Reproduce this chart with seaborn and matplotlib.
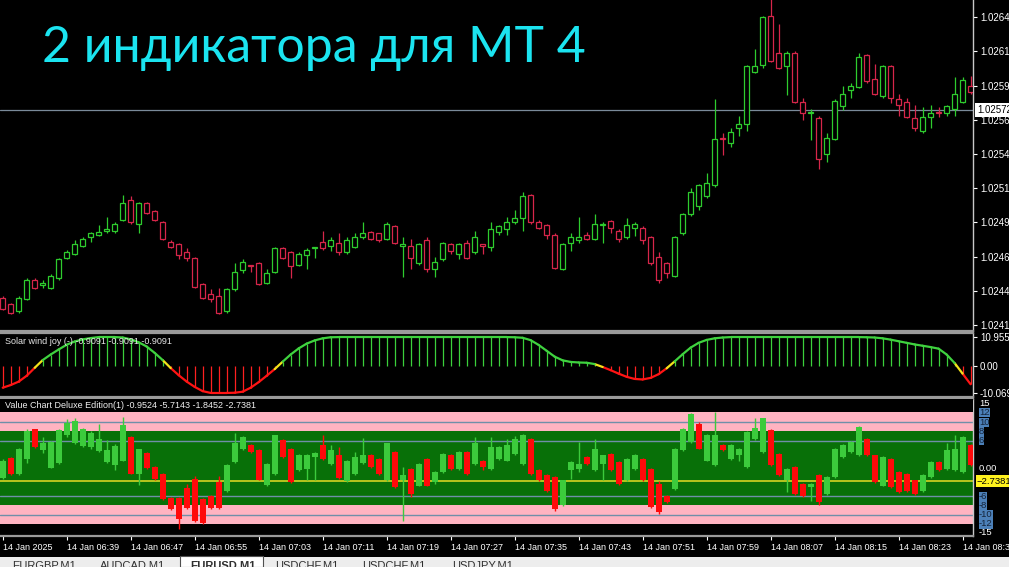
import numpy as np
import pandas as pd
import matplotlib
matplotlib.use('Agg')
import matplotlib.pyplot as plt
import matplotlib.transforms as mtransforms
from matplotlib.patches import Rectangle
import seaborn as sns

sns.set_style('dark')
plt.rcParams['font.family'] = ['DejaVu Sans']

# --- данные: свечи EURUSD M1 (O, H, L, C) ---
opens = [1.02435, 1.02430, 1.02425, 1.02434, 1.02448, 1.02444, 1.02442, 1.02449, 1.02464, 1.02467,
         1.02473, 1.02479, 1.02481, 1.02484, 1.02484, 1.02492, 1.02506, 1.02489, 1.02504, 1.02498,
         1.02490, 1.02476, 1.02474, 1.02468, 1.02464, 1.02445, 1.02438, 1.02436, 1.02425, 1.02441,
         1.02455, 1.02459, 1.02460, 1.02446, 1.02454, 1.02471, 1.02468, 1.02459, 1.02466, 1.02471,
         1.02476, 1.02473, 1.02475, 1.02468, 1.02472, 1.02479, 1.02483, 1.02482, 1.02478, 1.02487,
         1.02473, 1.02473, 1.02460, 1.02477, 1.02456, 1.02463, 1.02474, 1.02467, 1.02475, 1.02468,
         1.02474, 1.02472, 1.02483, 1.02485, 1.02490, 1.02493, 1.02510, 1.02490, 1.02488, 1.02481,
         1.02456, 1.02475, 1.02477, 1.02481, 1.02478, 1.02488, 1.02491, 1.02484, 1.02479, 1.02486,
         1.02486, 1.02479, 1.02465, 1.02460, 1.02451, 1.02482, 1.02496, 1.02502, 1.02509, 1.02517,
         1.02552, 1.02548, 1.02559, 1.02562, 1.02600, 1.02605, 1.02641, 1.02614, 1.02604, 1.02614,
         1.02578, 1.02570, 1.02566, 1.02540, 1.02551, 1.02575, 1.02587, 1.02589, 1.02612, 1.02595,
         1.02582, 1.02604, 1.02580, 1.02578, 1.02566, 1.02557, 1.02567, 1.02571, 1.02570, 1.02573,
         1.02578, 1.02590]
highs = [1.02436, 1.02431, 1.02436, 1.02449, 1.02449, 1.02448, 1.02452, 1.02464, 1.02470, 1.02477,
         1.02479, 1.02483, 1.02488, 1.02494, 1.02490, 1.02510, 1.02509, 1.02505, 1.02505, 1.02499,
         1.02491, 1.02477, 1.02475, 1.02471, 1.02465, 1.02446, 1.02441, 1.02442, 1.02442, 1.02460,
         1.02463, 1.02459, 1.02461, 1.02456, 1.02472, 1.02472, 1.02469, 1.02468, 1.02471, 1.02472,
         1.02484, 1.02479, 1.02482, 1.02479, 1.02482, 1.02490, 1.02484, 1.02482, 1.02490, 1.02488,
         1.02479, 1.02478, 1.02475, 1.02479, 1.02465, 1.02476, 1.02475, 1.02475, 1.02477, 1.02484,
         1.02474, 1.02490, 1.02488, 1.02494, 1.02499, 1.02512, 1.02511, 1.02492, 1.02489, 1.02482,
         1.02475, 1.02482, 1.02494, 1.02483, 1.02496, 1.02490, 1.02492, 1.02485, 1.02493, 1.02490,
         1.02487, 1.02480, 1.02468, 1.02461, 1.02480, 1.02497, 1.02515, 1.02518, 1.02526, 1.02580,
         1.02555, 1.02559, 1.02568, 1.02605, 1.02617, 1.02641, 1.02653, 1.02635, 1.02615, 1.02615,
         1.02581, 1.02573, 1.02568, 1.02555, 1.02580, 1.02590, 1.02592, 1.02614, 1.02613, 1.02606,
         1.02605, 1.02605, 1.02584, 1.02581, 1.02576, 1.02574, 1.02576, 1.02574, 1.02576, 1.02596,
         1.02596, 1.02597]
lows = [1.02426, 1.02423, 1.02424, 1.02433, 1.02441, 1.02442, 1.02441, 1.02448, 1.02463, 1.02466,
        1.02472, 1.02476, 1.02480, 1.02482, 1.02482, 1.02491, 1.02489, 1.02482, 1.02496, 1.02491,
        1.02477, 1.02471, 1.02463, 1.02462, 1.02442, 1.02434, 1.02432, 1.02423, 1.02424, 1.02440,
        1.02453, 1.02454, 1.02444, 1.02445, 1.02453, 1.02463, 1.02449, 1.02458, 1.02456, 1.02464,
        1.02470, 1.02469, 1.02466, 1.02467, 1.02471, 1.02478, 1.02477, 1.02476, 1.02477, 1.02474,
        1.02450, 1.02456, 1.02459, 1.02454, 1.02450, 1.02462, 1.02467, 1.02463, 1.02463, 1.02467,
        1.02467, 1.02469, 1.02481, 1.02481, 1.02489, 1.02484, 1.02489, 1.02485, 1.02478, 1.02456,
        1.02455, 1.02469, 1.02475, 1.02477, 1.02477, 1.02475, 1.02482, 1.02476, 1.02478, 1.02480,
        1.02474, 1.02459, 1.02446, 1.02449, 1.02450, 1.02481, 1.02495, 1.02499, 1.02508, 1.02516,
        1.02539, 1.02545, 1.02553, 1.02557, 1.02599, 1.02603, 1.02607, 1.02602, 1.02583, 1.02577,
        1.02565, 1.02550, 1.02529, 1.02534, 1.02550, 1.02572, 1.02581, 1.02588, 1.02592, 1.02583,
        1.02581, 1.02577, 1.02568, 1.02566, 1.02557, 1.02555, 1.02559, 1.02567, 1.02568, 1.02568,
        1.02577, 1.02584]
closes = [1.02427, 1.02424, 1.02435, 1.02448, 1.02442, 1.02446, 1.02451, 1.02463, 1.02468, 1.02474,
          1.02478, 1.02482, 1.02483, 1.02485, 1.02489, 1.02504, 1.02490, 1.02504, 1.02497, 1.02492,
          1.02478, 1.02472, 1.02466, 1.02464, 1.02443, 1.02435, 1.02434, 1.02424, 1.02441, 1.02454,
          1.02461, 1.02458, 1.02445, 1.02453, 1.02471, 1.02464, 1.02458, 1.02467, 1.02470, 1.02472,
          1.02471, 1.02477, 1.02468, 1.02477, 1.02479, 1.02482, 1.02478, 1.02477, 1.02489, 1.02475,
          1.02474, 1.02464, 1.02474, 1.02456, 1.02461, 1.02475, 1.02469, 1.02474, 1.02464, 1.02479,
          1.02473, 1.02485, 1.02487, 1.02490, 1.02493, 1.02509, 1.02490, 1.02486, 1.02481, 1.02457,
          1.02474, 1.02479, 1.02479, 1.02478, 1.02489, 1.02489, 1.02486, 1.02478, 1.02488, 1.02489,
          1.02477, 1.02460, 1.02448, 1.02453, 1.02479, 1.02496, 1.02512, 1.02517, 1.02519, 1.02551,
          1.02551, 1.02556, 1.02562, 1.02604, 1.02604, 1.02640, 1.02608, 1.02603, 1.02614, 1.02578,
          1.02570, 1.02571, 1.02536, 1.02552, 1.02579, 1.02584, 1.02590, 1.02611, 1.02593, 1.02584,
          1.02604, 1.02581, 1.02576, 1.02567, 1.02559, 1.02567, 1.02570, 1.02570, 1.02575, 1.02584,
          1.02594, 1.02585]
price_line = 1.02572
price_ticks = [1.02640, 1.02615, 1.02590, 1.02565, 1.02540, 1.02515, 1.02490, 1.02465, 1.02440, 1.02415]

# --- Solar wind joy ---
solar_wind = [-8.1, -7.1, -5.8, -3.6, -0.6, 2.3, 4.4, 6.3, 8.1, 9.3,
              10.1, 10.6, 10.96, 10.96, 10.96, 10.8, 10.1, 9.0, 7.4, 5.0,
              2.3, -0.7, -3.4, -5.8, -7.8, -9.4, -10.07, -10.07, -10.07, -10.0,
              -9.6, -8.1, -6.0, -3.6, -1.1, 1.7, 4.4, 6.7, 8.5, 9.7,
              10.5, 10.9, 10.96, 10.96, 10.96, 10.96, 10.96, 10.96, 10.96, 10.96,
              10.96, 10.96, 10.96, 10.96, 10.96, 10.96, 10.96, 10.96, 10.96, 10.96,
              10.96, 10.96, 10.96, 10.96, 10.9, 10.7, 9.8, 8.0, 5.8, 3.6,
              2.2, 1.6, 1.4, 1.3, 0.8, -0.3, -1.5, -2.8, -4.0, -4.8,
              -5.0, -4.4, -3.0, -0.8, 1.8, 4.5, 7.0, 8.8, 9.9, 10.5,
              10.8, 10.96, 10.96, 10.96, 10.96, 10.96, 10.96, 10.96, 10.96, 10.96,
              10.96, 10.96, 10.96, 10.96, 10.96, 10.96, 10.96, 10.96, 10.9, 10.8,
              10.5, 10.0, 9.4, 8.8, 8.2, 7.7, 7.2, 6.6, 4.4, 1.2,
              -2.8, -6.8]
sw_ticks = [10.9557, 0.0, -10.069]
sw_tick_labels = ['10.9557', '0.00', '-10.069']

# --- Value Chart Deluxe Edition ---
vc_open = [-2.0, 2.2, -1.3, 2.0, 8.5, 3.9, 0.2, 1.1, 7.2, 5.4,
           4.8, 4.6, 3.7, 1.3, 0.7, 1.7, 6.7, -1.3, 3.3, 0.4,
           -1.1, -6.3, -6.3, -4.3, -2.2, -6.5, -5.9, -3.0, -4.8, 1.3,
           4.3, 5.1, 3.9, -3.6, -1.2, 6.1, 4.3, -0.4, -0.1, 2.5,
           5.1, 1.0, 3.0, -2.8, -1.2, 1.2, 3.0, 2.0, -2.6, 3.6,
           -2.6, -0.1, -3.7, 2.1, -3.0, -0.8, 3.0, -0.1, 3.6, 1.0,
           1.7, -0.1, 2.1, 1.7, 3.2, 1.0, 6.4, -0.4, -1.4, -1.9,
           -8.0, -0.4, -0.1, 2.5, -0.4, 1.0, 3.2, 1.4, -2.6, -0.1,
           2.1, -0.1, -3.3, -5.9, -4.4, 3.9, 5.7, 9.7, 1.7, 0.7,
           5.1, 2.1, 2.8, 0.3, 6.4, 3.6, 8.3, 3.2, -2.6, 0.3,
           -3.3, -4.1, -1.5, -5.5, -1.9, 2.5, 3.6, 2.8, 6.4, 2.8,
           -3.7, 2.1, -0.8, -1.2, -2.6, -4.8, -1.9, 1.4, -0.1, -0.4,
           -0.8, 5.0]
vc_high = [2.0, 2.4, 4.5, 8.5, 8.6, 6.7, 5.9, 8.5, 10.7, 10.9,
           8.7, 8.0, 9.6, 6.1, 5.2, 11.1, 7.0, 4.3, 3.5, 0.6,
           -0.9, -6.1, -6.1, -3.3, -1.7, -6.3, -5.7, -1.7, 0.9, 7.6,
           7.0, 5.3, 4.1, 1.2, 7.3, 6.3, 4.5, 3.2, 3.2, 3.6,
           7.2, 5.0, 4.6, 1.9, 3.6, 6.6, 3.2, 2.2, 5.6, 3.8,
           0.3, 0.1, 1.2, 2.3, -0.6, 3.4, 3.2, 3.8, 3.8, 6.8,
           1.9, 6.8, 4.8, 6.4, 7.0, 7.5, 6.6, -0.2, -1.2, -1.7,
           -2.4, 1.6, 5.7, 2.7, 6.4, 3.0, 3.4, 1.6, 2.3, 3.2,
           2.3, 0.1, -2.8, -5.7, 4.5, 8.7, 11.9, 10.1, 7.4, 12.2,
           5.3, 5.2, 4.5, 8.1, 10.8, 11.0, 8.5, 3.4, 0.1, 0.5,
           -3.1, -3.1, -1.3, -1.7, 4.5, 5.3, 5.9, 9.2, 6.6, 3.0,
           2.7, 2.3, -0.6, -1.0, -2.4, -1.3, 1.6, 1.6, 5.4, 7.2,
           7.0, 5.2]
vc_low = [-2.3, -1.5, -1.5, 1.1, 4.5, 3.3, 0.0, 0.9, 6.7, 5.2,
          4.6, 4.1, 3.5, 1.1, -0.4, 1.5, -1.3, -3.5, -0.2, -2.4,
          -6.9, -8.9, -13.0, -8.7, -11.5, -12.0, -8.7, -8.7, -5.0, 1.1,
          4.0, 3.4, -2.6, -3.7, -1.4, 2.3, -3.2, -0.6, -2.4, -2.4,
          1.9, 0.8, -2.3, -3.0, -1.4, 1.0, 0.1, -1.4, -2.8, -4.3,
          -11.3, -6.2, -3.9, -3.9, -3.4, -1.0, -0.3, -0.3, -1.4, 0.8,
          -0.4, -0.3, 1.9, 1.5, 3.0, 0.8, -1.4, -2.8, -5.0, -9.1,
          -8.2, -2.2, -0.8, 0.8, -0.6, -2.6, -0.6, -3.5, -2.8, -0.3,
          -2.8, -8.6, -9.9, -7.5, -4.6, 3.7, 5.5, 4.1, 1.5, 0.5,
          3.7, 1.9, 1.7, 0.1, 6.2, 3.4, 0.5, -1.7, -5.1, -5.7,
          -6.1, -7.0, -8.0, -5.7, -2.1, 2.3, 3.4, 2.6, 2.6, -3.2,
          -3.9, -4.3, -5.3, -5.0, -5.7, -5.0, -2.1, -0.6, -0.3, -0.6,
          -1.0, 0.5]
vc_close = [1.5, -1.3, 4.1, 8.0, 4.6, 5.4, 5.7, 8.3, 9.8, 10.2,
            8.5, 7.6, 6.3, 3.9, 4.8, 9.3, -1.1, 4.1, 0.0, -2.2,
            -6.7, -8.7, -10.9, -8.5, -11.3, -11.7, -8.5, -8.5, 0.7, 5.4,
            6.8, 3.6, -2.4, 1.0, 7.2, 2.5, -3.0, 3.0, 3.0, 3.4,
            2.1, 3.9, -2.1, 1.7, 2.5, 2.8, 0.3, -1.2, 5.4, -4.1,
            -1.5, -5.5, 1.0, -3.7, -0.8, 3.2, -0.1, 3.6, -1.2, 5.6,
            0.3, 4.6, 4.6, 5.0, 6.4, 7.3, -1.2, -2.6, -4.8, -8.8,
            -2.6, 1.4, 1.0, 1.0, 4.3, 2.8, -0.4, -3.3, 2.1, 3.0,
            -2.6, -8.4, -9.5, -7.3, 4.3, 8.5, 11.7, 4.3, 7.2, 7.2,
            3.9, 5.0, 4.3, 7.9, 8.8, 10.8, 0.7, -1.5, -0.1, -5.5,
            -5.9, -3.3, -7.3, -1.9, 4.3, 5.1, 5.7, 9.0, 2.8, -3.0,
            2.5, -4.1, -5.1, -4.8, -5.5, -1.5, 1.4, -0.4, 3.9, 4.3,
            6.8, 0.7]
vc_last = -2.7381
vc_ticks = [15, 12, 10, 8, 6, 0, -6, -8, -10, -12, -15]

# --- время ---
time_labels = ['14 Jan 2025', '14 Jan 06:39', '14 Jan 06:47', '14 Jan 06:55', '14 Jan 07:03',
               '14 Jan 07:11', '14 Jan 07:19', '14 Jan 07:27', '14 Jan 07:35', '14 Jan 07:43',
               '14 Jan 07:51', '14 Jan 07:59', '14 Jan 08:07', '14 Jan 08:15', '14 Jan 08:23',
               '14 Jan 08:31']
tabs = ['EURGBP,M1', 'AUDCAD,M1', 'EURUSD,M1', 'USDCHF,M1', 'USDCHF,M1', 'USDJPY,M1']

BULL = '#2ECC2E'
BEAR = '#D7264A'
VC_BULL = '#3CCB3C'
VC_BEAR = '#FF0A0A'
FRAME = '#9A9A9A'
AXFONT = ['Liberation Sans', 'DejaVu Sans']

W, H = 1009, 567
fig = plt.figure(figsize=(W / 100, H / 100), dpi=100, facecolor='black')


def px_axes(x0, y0, x1, y1):
    return fig.add_axes([x0 / W, 1 - y1 / H, (x1 - x0) / W, (y1 - y0) / H])


ax_main = px_axes(0, 0, 973, 331)
ax_sw = px_axes(0, 333, 973, 397)
ax_vc = px_axes(0, 399, 973, 536)

n = len(opens)
idx = np.arange(n)

for ax in (ax_main, ax_sw, ax_vc):
    ax.set_facecolor('black')
    ax.grid(False)
    ax.set_xlim(-0.34, 121.3)
    ax.yaxis.tick_right()
    for s in ax.spines.values():
        s.set_color(FRAME)
        s.set_linewidth(1.6)
    ax.spines['left'].set_visible(False)
    ax.spines['right'].set_color('#C8C8C8')
    ax.spines['right'].set_linewidth(1.0)
    ax.tick_params(axis='y', colors='white', labelsize=7, length=3, width=0.8,
                   direction='out', pad=2)
    ax.tick_params(axis='x', bottom=False, labelbottom=False)
ax_main.spines['top'].set_visible(False)

# 1. Основной график: свечи
o = np.array(opens)
c = np.array(closes)
cols = np.where(c >= o, BULL, BEAR)
ax_main.vlines(idx, lows, highs, colors=cols, lw=0.9, zorder=2)
ax_main.bar(idx, np.abs(c - o), bottom=np.minimum(o, c), width=0.62,
            facecolor='black', edgecolor=cols, linewidth=0.9, zorder=3)
ax_main.axhline(price_line, color='#7A8A9A', lw=0.9, zorder=1)
ax_main.set_ylim(1.024106, 1.026525)
ax_main.set_yticks(price_ticks)
ax_main.set_yticklabels([f'{p:.5f}' for p in price_ticks], family=AXFONT)
tr_main = mtransforms.blended_transform_factory(ax_main.transAxes, ax_main.transData)
ax_main.text(1.004, price_line, f'{price_line:.5f}', transform=tr_main, fontsize=7,
             family=AXFONT, color='black', va='center', ha='left', zorder=10,
             bbox=dict(facecolor='white', edgecolor='none', pad=1.2), clip_on=False)

fig.text(42 / W, 1 - 62 / H, '2 индикатора для MT 4', color='#1BE4F0', fontsize=36,
         family=['Lato', 'Noto Sans', 'DejaVu Sans'], va='baseline', ha='left')

# 2. Solar wind joy
sw = np.array(solar_wind)
ax_sw.vlines(idx, 0, sw, colors=np.where(sw >= 0, '#3BD03B', '#FF2020'), lw=0.9, zorder=2)
rows = []
for i in range(n - 1):
    a, b = sw[i], sw[i + 1]
    if (a >= 0) != (b >= 0):
        col = 'y'
    elif a >= 0:
        col = 'g'
    else:
        col = 'r'
    rows.append((i, idx[i], a, col))
    rows.append((i, idx[i + 1], b, col))
seg_df = pd.DataFrame(rows, columns=['seg', 'x', 'val', 'col'])
sns.lineplot(data=seg_df, x='x', y='val', hue='col', units='seg', estimator=None,
             palette={'g': '#3FD23F', 'r': '#FF1414', 'y': '#F2E21A'}, legend=False,
             lw=1.6, ax=ax_sw, zorder=3)
ax_sw.set_xlabel('')
ax_sw.set_ylabel('')
ax_sw.set_xlim(-0.34, 121.3)
ax_sw.set_ylim(-11.6, 12.5)
ax_sw.set_yticks(sw_ticks)
ax_sw.set_yticklabels(sw_tick_labels, family=AXFONT)
ax_sw.tick_params(axis='x', bottom=False, labelbottom=False)
ax_sw.text(0.005, 0.93, 'Solar wind joy (-) -0.9091 -0.9091 -0.9091', transform=ax_sw.transAxes,
           color='#E6E6E6', fontsize=6.5, family=AXFONT, va='top', ha='left', zorder=5)

# 3. Value Chart Deluxe Edition
ax_vc.axhspan(-8, 8, color='#087008', zorder=0, lw=0)
ax_vc.axhspan(8, 12.2, color='#FFB3C1', zorder=0, lw=0)
ax_vc.axhspan(-12, -8, color='#FFB3C1', zorder=0, lw=0)
for lvl in (10, 6, -6, -10):
    ax_vc.axhline(lvl, color='#6F8FA8', lw=1.0, zorder=1)
ax_vc.axhline(vc_last, color='#D4D422', lw=1.2, zorder=1)
vo = np.array(vc_open)
vcl = np.array(vc_close)
vcols = np.where(vcl >= vo, VC_BULL, VC_BEAR)
ax_vc.vlines(idx, vc_low, vc_high, colors=vcols, lw=1.0, zorder=2)
ax_vc.bar(idx, np.abs(vcl - vo), bottom=np.minimum(vo, vcl), width=0.75,
          color=vcols, linewidth=0, zorder=3)
ax_vc.axhspan(12.2, 15.5, color='black', zorder=4, lw=0)
ax_vc.text(0.005, 0.985, 'Value Chart Deluxe Edition(1) -0.9524 -5.7143 -1.8452 -2.7381',
           transform=ax_vc.transAxes, color='#F0F0F0', fontsize=6.5, family=AXFONT,
           va='top', ha='left', zorder=6)
ax_vc.set_ylim(-14.6, 15.0)
ax_vc.set_yticks([])
tr_vc = mtransforms.blended_transform_factory(ax_vc.transAxes, ax_vc.transData)
for t in vc_ticks:
    ypos = t
    if t == 15:
        ypos = 14.1
    elif t == -15:
        ypos = -13.8
    txt = '0.00' if t == 0 else str(t)
    boxed = abs(t) in (6, 8, 10, 12)
    ax_vc.text(1.006, ypos, txt, transform=tr_vc, fontsize=6.8, family=AXFONT,
               color='#14243A' if boxed else 'white', va='center', ha='left', clip_on=False,
               bbox=dict(facecolor='#4C80B8', edgecolor='none', pad=0.1) if boxed else None)
ax_vc.text(1.004, vc_last, '\u22122.7381', transform=tr_vc, fontsize=6.8, family=AXFONT,
           color='black', va='center', ha='left', clip_on=False, zorder=10,
           bbox=dict(facecolor='#FFF21E', edgecolor='none', pad=0.8))

# ось времени
ax_vc.set_xticks(idx[::8])
ax_vc.set_xticklabels(time_labels, ha='left', family=AXFONT)
ax_vc.tick_params(axis='x', bottom=True, labelbottom=True, colors='white', labelsize=6.5,
                  length=3, width=0.8, direction='out', pad=2)

# вкладки внизу
fig.patches.append(Rectangle((0, 0), 1, 10 / H, transform=fig.transFigure,
                             facecolor='#EDEDED', edgecolor='none'))
fig.patches.append(Rectangle((180 / W, 0), 83 / W, 11 / H, transform=fig.transFigure,
                             facecolor='white', edgecolor='#505050', lw=0.8))
tab_x = [12, 100, 190, 275, 362, 452]
for tx, name in zip(tab_x, tabs):
    fig.text(tx / W, 1 - 560 / H, name, color='#303030', fontsize=8, family=AXFONT,
             fontweight='bold' if name == 'EURUSD,M1' else 'normal', va='top', ha='left')

fig.savefig('out.png', dpi=100, facecolor='black')
